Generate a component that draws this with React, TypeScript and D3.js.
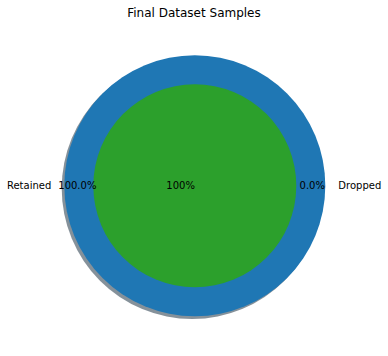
import React from "react";
import * as d3 from "d3";

const outerLabels = ["Retained", "Dropped"];
const outerValues = [100, 0];
const outerColors = ["#1f77b4", "#ff7f0e"];
const innerLabels = ["Retained"];
const innerValues = [100];
const innerColors = ["#2ca02c"];
const title = "Final Dataset Samples";

const W = 388, H = 356;
const cx = 194.8, cy = 185.8, R = 130.5, r = 101.5;
const shadowDx = -2.6, shadowDy = 2.6;

export default function App() {
  const total = d3.sum(outerValues);
  // matplotlib: counterclockwise from startangle 0 (3 o'clock)
  const pie = d3.pie<number>().sort(null).startAngle(Math.PI / 2).endAngle(Math.PI / 2 - 2 * Math.PI);
  const outerArcs = pie(outerValues);
  const innerArcs = pie(innerValues);
  const arcO = d3.arc<d3.PieArcDatum<number>>().innerRadius(0).outerRadius(R);
  const arcI = d3.arc<d3.PieArcDatum<number>>().innerRadius(0).outerRadius(r);
  const font = "DejaVu Sans, sans-serif";
  const mid = (a: d3.PieArcDatum<number>) => (a.startAngle + a.endAngle) / 2;
  return (
    <svg width={W} height={H} style={{ position: "absolute", left: 0, top: 0 }}>
      <rect width={W} height={H} fill="white" />
      <text x={W / 2} y={17} textAnchor="middle" fontFamily={font} fontSize={12} fill="#000">{title}</text>
      <g transform={`translate(${cx + shadowDx},${cy + shadowDy})`}>
        {outerArcs.filter(a => a.value > 0).map((a, i) => (
          <path key={i} d={arcO(a) || ""} fill="#0b2436" fillOpacity={0.5} />
        ))}
      </g>
      <g transform={`translate(${cx},${cy})`}>
        {outerArcs.filter(a => a.value > 0).map((a, i) => (
          <path key={i} d={arcO(a) || ""} fill={outerColors[a.index]} />
        ))}
        {innerArcs.filter(a => a.value > 0).map((a, i) => (
          <path key={i} d={arcI(a) || ""} fill={innerColors[a.index]} />
        ))}
        {outerArcs.map((a, i) => {
          const m = mid(a);
          const x = Math.sin(m), y = -Math.cos(m);
          return (
            <g key={i}>
              <text x={x * R * 1.1} y={y * R * 1.1} dy="0.35em" textAnchor={x < 0 ? "end" : "start"} fontFamily={font} fontSize={10} fill="#000">{outerLabels[i]}</text>
              <text x={x * R * 0.9} y={y * R * 0.9} dy="0.35em" textAnchor="middle" fontFamily={font} fontSize={10} fill="#000">{((a.value / total) * 100).toFixed(1)}%</text>
            </g>
          );
        })}
        {innerArcs.map((a, i) => {
          const m = mid(a);
          const x = Math.sin(m), y = -Math.cos(m);
          return (
            <text key={i} x={x * r * 0.14} y={y * r * 0.14} dy="0.35em" textAnchor="middle" fontFamily={font} fontSize={10} fill="#000">{Math.round((a.value / d3.sum(innerValues)) * 100)}%</text>
          );
        })}
      </g>
    </svg>
  );
}
